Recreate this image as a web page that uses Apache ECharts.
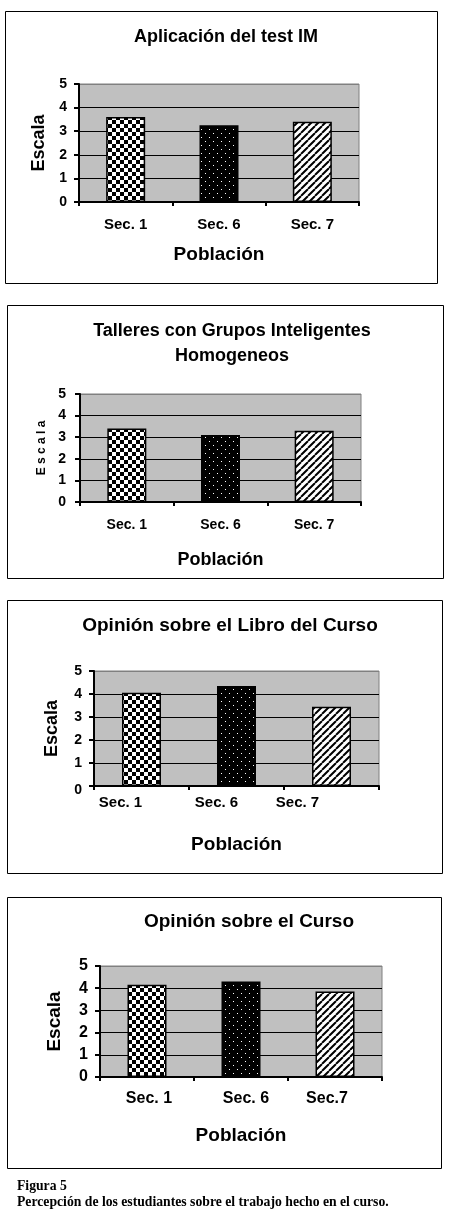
<!DOCTYPE html>
<html><head><meta charset="utf-8">
<script src="https://cdn.jsdelivr.net/npm/echarts@6/dist/echarts.min.js"></script>
<style>html,body{margin:0;padding:0;background:#fff;}#c{width:449px;height:1221px;}</style>
</head><body><div id="c"></div>
<script>
// ---- data ----
const categories = ['Sec. 1', 'Sec. 6', 'Sec. 7'];
const categoriesCurso = ['Sec. 1', 'Sec. 6', 'Sec.7'];
const chartTitles = ['Aplicación del test IM', 'Talleres con Grupos Inteligentes\nHomogeneos', 'Opinión sobre el Libro del Curso', 'Opinión sobre el Curso'];
const valuesTest = [3.6, 3.25, 3.4];
const valuesTalleres = [3.4, 3.1, 3.3];
const valuesLibro = [4.05, 4.35, 3.45];
const valuesCurso = [4.15, 4.3, 3.85];
const yMin = 0, yMax = 5, yStep = 1;
const xName = 'Población';
const yName = 'Escala';
const yNameSpaced = 'E s c a l a';
const captionTitle = 'Figura 5';
const captionText = 'Percepción de los estudiantes sobre el trabajo hecho en el curso.';

// ---- patterns ----
function mk(w, h, draw) { const c = document.createElement('canvas'); c.width = w; c.height = h; const g = c.getContext('2d'); draw(g, w, h); return c; }
const checker = mk(8, 8, g => { g.fillStyle = '#fff'; g.fillRect(0,0,8,8); g.fillStyle = '#000'; g.fillRect(0,0,4,4); g.fillRect(4,4,4,4); });
const dots = mk(8, 8, g => { g.fillStyle = '#000'; g.fillRect(0,0,8,8); g.fillStyle = '#fff'; g.fillRect(1,1,1,1); g.fillRect(5,5,1,1); });
const diag = mk(7, 7, g => { g.fillStyle = '#fff'; g.fillRect(0,0,7,7); g.strokeStyle = '#000'; g.lineWidth = 2; g.beginPath(); for (let k = -1; k <= 1; k++) { g.moveTo(k*7, 7); g.lineTo(k*7+7, 0); } g.stroke(); });
const pats = [checker, dots, diag].map(im => ({ image: im, repeat: 'repeat' }));

const F = "'Liberation Sans', Arial, sans-serif";
const SERIF = "bold 13.7px 'Liberation Serif', 'Times New Roman', serif";
const grids = [
  { left: 79, top: 84, width: 280, height: 118 },
  { left: 80, top: 394, width: 281, height: 108 },
  { left: 94, top: 671, width: 285, height: 115 },
  { left: 100, top: 966, width: 282, height: 111 }
];
const cfg = [
  { cats: categories, vals: valuesTest, xs: 15, ys: 14, yLM: 12, nameY: yName, nameYs: 18, nameYGap: 30, nameXs: 19, nameXGap: 43, xLM: 15, shifts: [0,0,0] },
  { cats: categories, vals: valuesTalleres, xs: 14, ys: 14, yLM: 14, nameY: yNameSpaced, nameYs: 12, nameYGap: 31, nameXs: 18, nameXGap: 49, xLM: 16, shifts: [0,0,0] },
  { cats: categories, vals: valuesLibro, xs: 15, ys: 14, yLM: 12, nameY: yName, nameYs: 18, nameYGap: 33, nameXs: 19, nameXGap: 49, xLM: 9, shifts: [-21,-20,-34], zeroDown: true },
  { cats: categoriesCurso, vals: valuesCurso, xs: 16, ys: 16, yLM: 12, nameY: yName, nameYs: 19, nameYGap: 36, nameXs: 19, nameXGap: 49, xLM: 14, shifts: [2,5,-8] }
];

const option = {
  animation: false,
  backgroundColor: '#fff',
  graphic: [
    { type: 'rect', shape: { x: 5.5, y: 11.5, width: 432, height: 272 }, style: { fill: '#fff', stroke: '#000', lineWidth: 1 }, z: -10 },
    { type: 'rect', shape: { x: 7.5, y: 305.5, width: 436, height: 273 }, style: { fill: '#fff', stroke: '#000', lineWidth: 1 }, z: -10 },
    { type: 'rect', shape: { x: 7.5, y: 600.5, width: 435, height: 273 }, style: { fill: '#fff', stroke: '#000', lineWidth: 1 }, z: -10 },
    { type: 'rect', shape: { x: 7.5, y: 897.5, width: 434, height: 271 }, style: { fill: '#fff', stroke: '#000', lineWidth: 1 }, z: -10 },
    { type: 'text', left: 17, top: 1179, style: { text: captionTitle, font: SERIF, fill: '#000' } },
    { type: 'text', left: 17, top: 1195, style: { text: captionText, font: SERIF, fill: '#000' } }
  ],
  title: [
    { text: chartTitles[0], left: 221, top: 23, textAlign: 'center', textStyle: { fontFamily: F, fontWeight: 'bold', fontSize: 18, color: '#000' } },
    { text: chartTitles[1], left: 227, top: 314, textAlign: 'center', textStyle: { fontFamily: F, fontWeight: 'bold', fontSize: 18, lineHeight: 25, color: '#000' } },
    { text: chartTitles[2], left: 225, top: 611, textAlign: 'center', textStyle: { fontFamily: F, fontWeight: 'bold', fontSize: 19, color: '#000' } },
    { text: chartTitles[3], left: 244, top: 907, textAlign: 'center', textStyle: { fontFamily: F, fontWeight: 'bold', fontSize: 19, color: '#000' } }
  ],
  grid: grids.map(g => Object.assign({ show: true, backgroundColor: '#c0c0c0', borderColor: '#808080', borderWidth: 1 }, g)),
  xAxis: cfg.map((c, i) => {
    const rich = {};
    c.shifts.forEach((s, k) => { rich['s' + k] = { fontFamily: F, fontWeight: 'bold', fontSize: c.xs, color: '#000', padding: s < 0 ? [0, -2*s, 0, 0] : [0, 0, 0, 2*s] }; });
    return {
      type: 'category', gridIndex: i, data: c.cats,
      name: xName, nameLocation: 'middle', nameGap: c.nameXGap,
      nameTextStyle: { fontFamily: F, fontWeight: 'bold', fontSize: c.nameXs, color: '#000' },
      axisLine: { lineStyle: { color: '#000', width: 2 } },
      axisTick: { show: true, length: 4, lineStyle: { color: '#000', width: 2 } },
      axisLabel: { margin: c.xLM, formatter: (v, k) => '{s' + k + '|' + v + '}', rich: rich, color: '#000' }
    };
  }),
  yAxis: cfg.map((c, i) => ({
    type: 'value', gridIndex: i, min: yMin, max: yMax, interval: yStep,
    name: c.nameY, nameLocation: 'middle', nameRotate: 90, nameGap: c.nameYGap,
    nameTextStyle: { fontFamily: F, fontWeight: 'bold', fontSize: c.nameYs, color: '#000' },
    axisLine: { show: true, lineStyle: { color: '#000', width: 2 } },
    axisTick: { show: true, length: 5, lineStyle: { color: '#000', width: 2 } },
    axisLabel: {
      margin: c.yLM, fontFamily: F, fontWeight: 'bold', fontSize: c.ys, color: '#000',
      formatter: c.zeroDown ? (v => v === 0 ? '{z|0}' : String(v)) : '{value}',
      rich: { z: { fontFamily: F, fontWeight: 'bold', fontSize: c.ys, color: '#000', padding: [9, 0, 0, 0] } }
    },
    splitLine: { show: true, lineStyle: { color: ['#000', '#000', '#000', '#000', '#000', '#808080'], width: 1 } }
  })),
  series: cfg.map((c, i) => ({
    type: 'bar', xAxisIndex: i, yAxisIndex: i, barWidth: 39,
    data: c.vals.map((v, k) => ({ value: v, itemStyle: { color: pats[k], borderColor: '#000', borderWidth: 1.5 } }))
  }))
};
const chart = echarts.init(document.getElementById('c'), null, { renderer: 'canvas' });
chart.setOption(option);
</script></body></html>
